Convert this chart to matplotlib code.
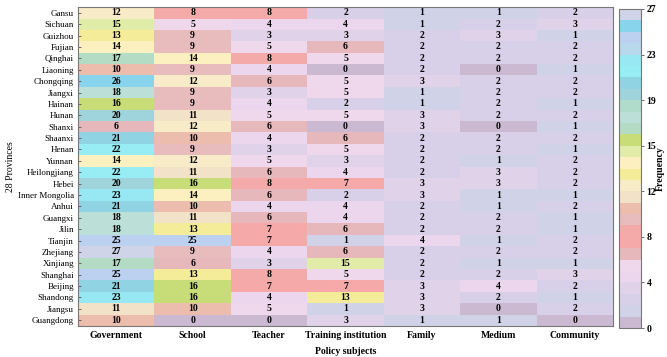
import numpy as np
import matplotlib
matplotlib.use("Agg")
import matplotlib.pyplot as plt
from matplotlib.colors import ListedColormap, Normalize

plt.rcParams['font.family'] = ['Liberation Serif', 'DejaVu Serif']

# data
provinces = ["Gansu", "Sichuan", "Guizhou", "Fujian", "Qinghai", "Liaoning", "Chongqing",
             "Jiangxi", "Hainan", "Hunan", "Shanxi", "Shaanxi", "Henan", "Yunnan",
             "Heilongjiang", "Hebei", "Inner Mongolia", "Anhui", "Guangxi", "Jilin",
             "Tianjin", "Zhejiang", "Xinjiang", "Shanghai", "Beijing", "Shandong",
             "Jiangsu", "Guangdong"]
subjects = ["Government", "School", "Teacher", "Training institution", "Family", "Medium", "Community"]

government = [12, 15, 13, 14, 17, 10, 26, 18, 16, 20, 6, 21, 22, 14, 22, 20, 23, 21, 18, 18, 25, 27, 17, 25, 21, 23, 11, 10]
school = [8, 5, 9, 9, 14, 9, 12, 9, 9, 11, 12, 10, 9, 12, 11, 16, 14, 10, 11, 13, 25, 9, 6, 13, 16, 16, 10, 0]
teacher = [8, 4, 3, 5, 8, 4, 6, 3, 4, 5, 6, 4, 3, 5, 6, 8, 6, 4, 6, 7, 7, 4, 3, 8, 7, 4, 5, 0]
training = [2, 4, 3, 6, 5, 0, 5, 5, 2, 5, 0, 6, 5, 3, 4, 7, 2, 4, 4, 6, 1, 6, 15, 5, 7, 13, 1, 3]
family = [1, 1, 2, 2, 2, 2, 3, 1, 1, 3, 3, 2, 2, 2, 2, 3, 3, 2, 2, 2, 4, 2, 2, 2, 3, 3, 3, 1]
medium = [1, 2, 3, 2, 2, 0, 2, 2, 2, 2, 0, 2, 2, 1, 3, 3, 1, 1, 2, 2, 1, 2, 1, 2, 4, 2, 0, 1]
community = [2, 3, 1, 2, 2, 1, 2, 2, 1, 2, 1, 2, 1, 2, 2, 2, 1, 2, 1, 1, 2, 2, 1, 3, 2, 1, 2, 0]

# one colour per frequency value 0..27
level_colors = ["#cbb9d2", "#d0d2e8", "#d8d0e8", "#e0d2e8", "#ecd6ee", "#f0d8ec", "#e6b8bc",
                "#f5a9a9", "#f4aaa8", "#e8bcbc", "#ecbcac", "#f2e2c8", "#f8ecc8", "#f4ec98",
                "#fcf0c0", "#e0eca8", "#c8dc78", "#b4dcc4", "#bce0d8", "#b0dccc", "#a0d4dc",
                "#90d4e4", "#98ecf4", "#98e8f4", "#b8d8ec", "#bcd0f0", "#88d4ec", "#d0d4e8"]

data = np.array([government, school, teacher, training, family, medium, community]).T

cmap = ListedColormap(level_colors)
norm = Normalize(vmin=0, vmax=27)

fig = plt.figure(figsize=(6.67, 3.57), dpi=100)
ax = fig.add_axes([0.117, 0.087, 0.802, 0.893])
cax = fig.add_axes([0.928, 0.081, 0.033, 0.894])

mesh = ax.pcolormesh(data, cmap=cmap, norm=norm)
ax.set_xlim(0, len(subjects))
ax.set_ylim(len(provinces), 0)

for i in range(data.shape[0]):
    for j in range(data.shape[1]):
        ax.text(j + 0.5, i + 0.5, str(data[i, j]), ha='center', va='center',
                fontsize=7, fontweight='bold', color='black')

ax.set_xticks(np.arange(len(subjects)) + 0.5)
ax.set_xticklabels(subjects, fontsize=7, fontweight='bold')
ax.set_yticks(np.arange(len(provinces)) + 0.5)
ax.set_yticklabels(provinces, fontsize=6.5)
ax.tick_params(axis='x', length=0, pad=4)
ax.tick_params(axis='y', direction='in', length=2, width=0.6, color='#555555', pad=3)
ax.set_xlabel("Policy subjects", fontsize=7, fontweight='bold', labelpad=5)
ax.set_ylabel("28 Provinces", fontsize=7, labelpad=2)
for s in ax.spines.values():
    s.set_color('#777777')
    s.set_linewidth(0.8)

cb = fig.colorbar(mesh, cax=cax)
ticks = np.linspace(0, 27, 8)
cb.set_ticks(ticks)
cb.set_ticklabels([f"{t:.0f}" for t in ticks])
cb.ax.tick_params(labelsize=7, length=2, width=0.6, color='#555555', pad=2)
for lbl in cb.ax.get_yticklabels():
    lbl.set_fontweight('bold')
cb.outline.set_edgecolor('#777777')
cb.outline.set_linewidth(0.8)
cb.set_label("Frequency", fontsize=7, fontweight='bold', labelpad=0)

fig.savefig("out.png", dpi=100)
